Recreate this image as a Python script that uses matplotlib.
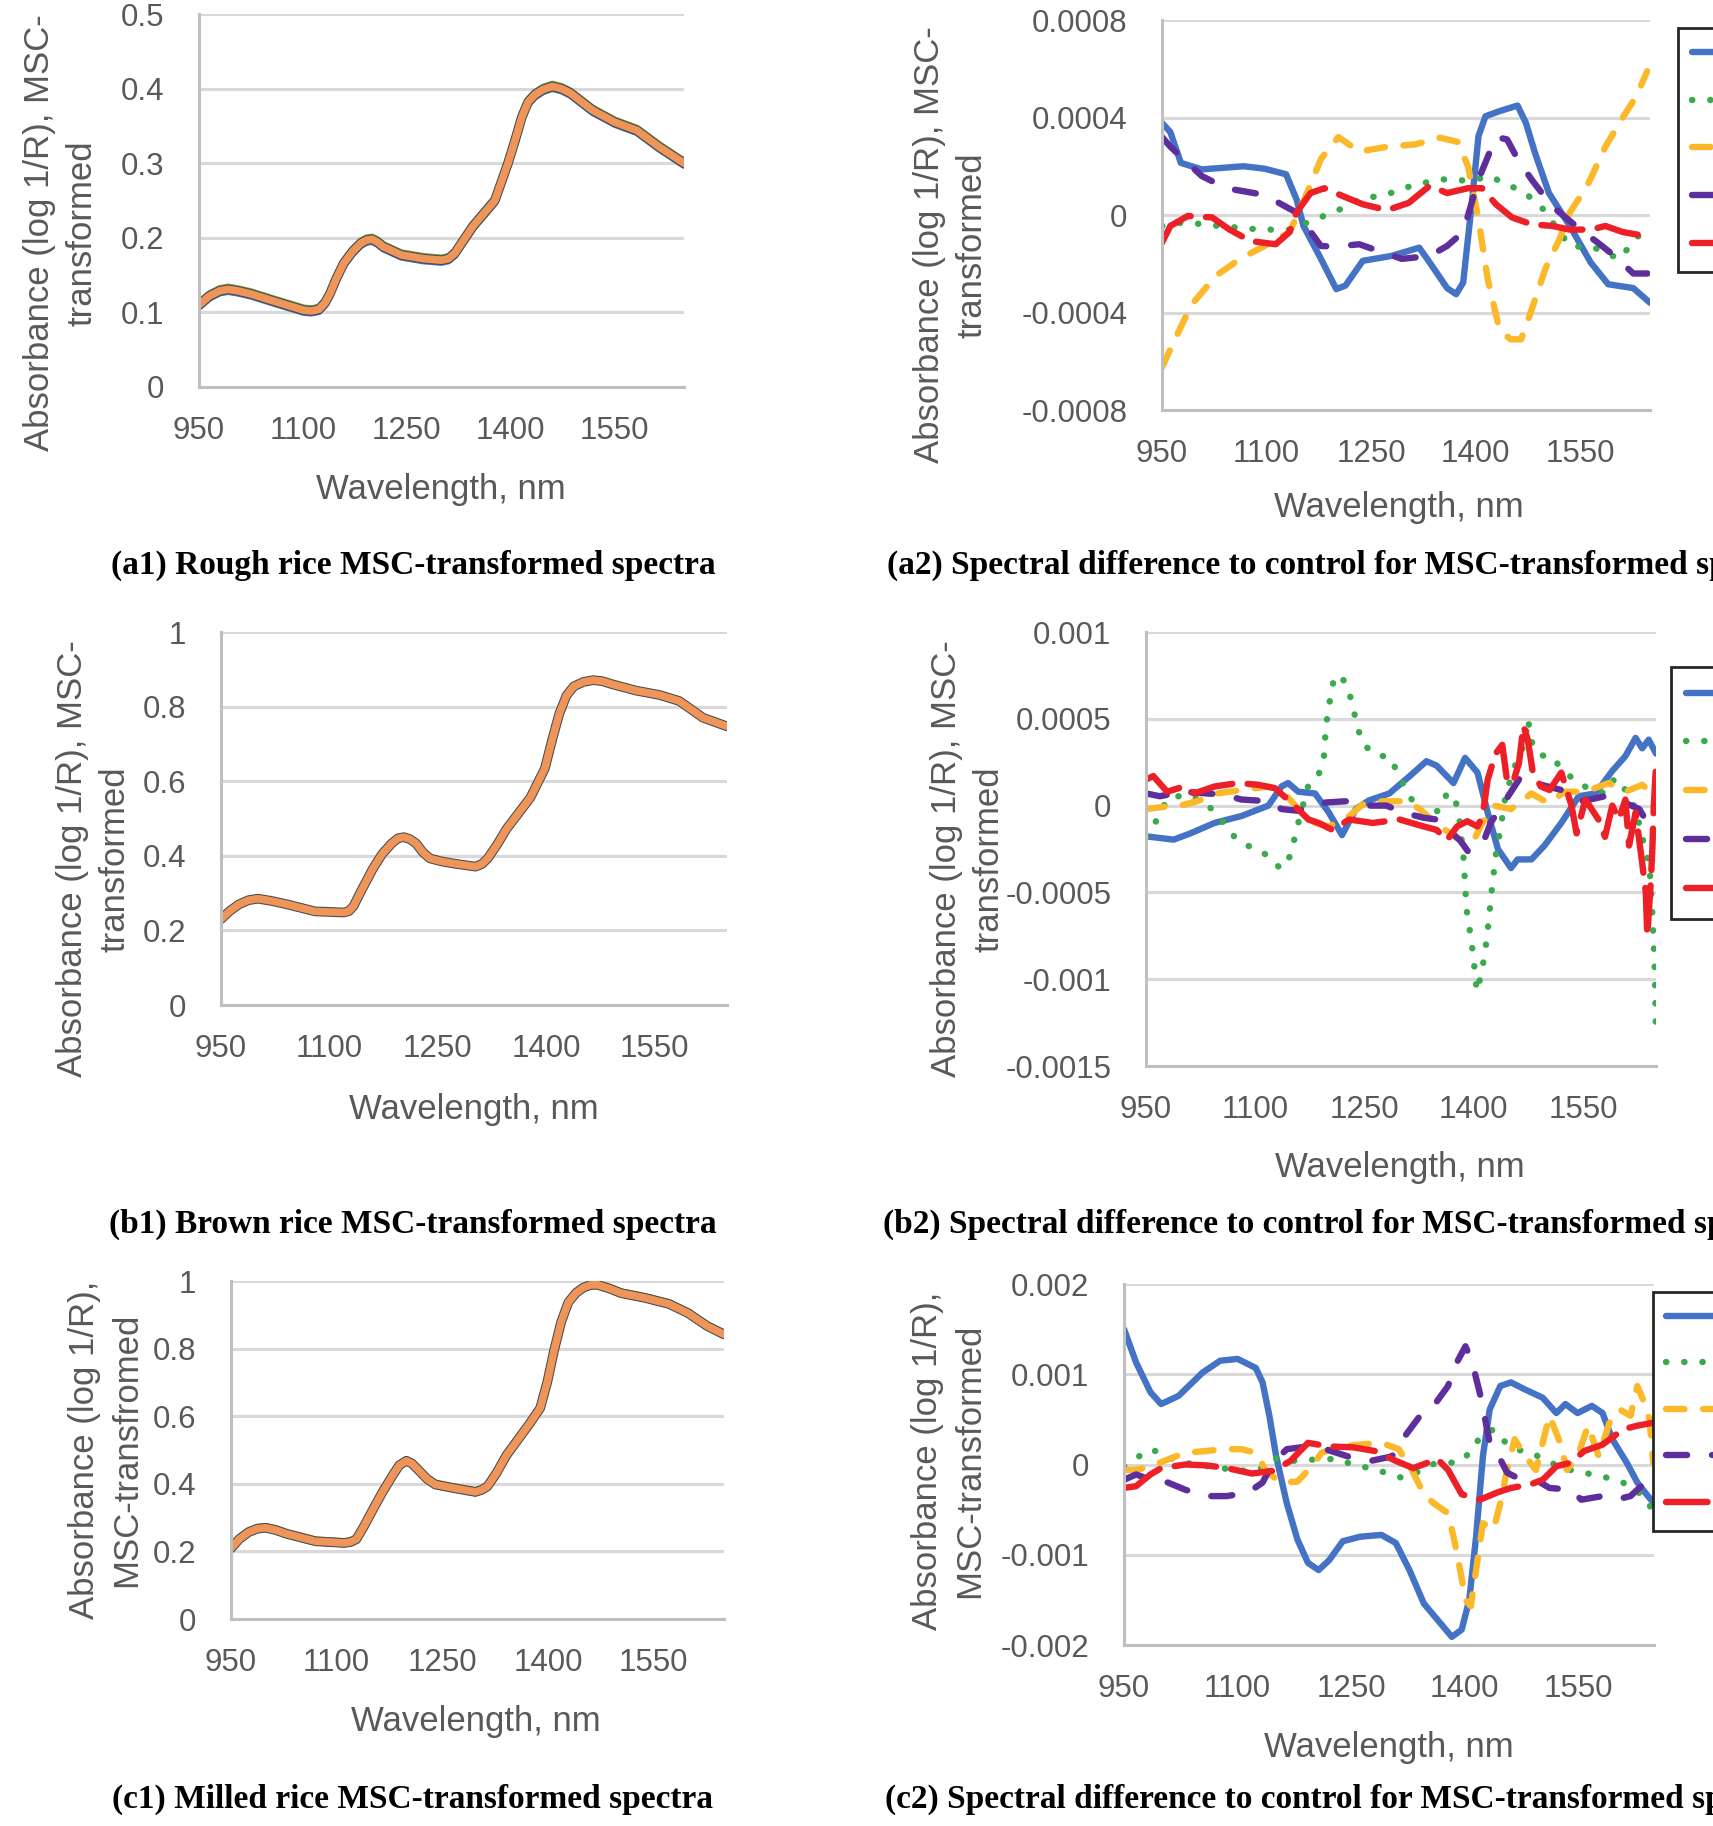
import matplotlib
matplotlib.use('Agg')
import matplotlib.pyplot as plt
import numpy as np

# ---- data ----
# left column: MSC-transformed spectra (absorbance)
a1_nm = [950, 965, 980, 992, 1005, 1024, 1062, 1101, 1112, 1123, 1132, 1139, 1148, 1159, 1172, 1184, 1192,
         1200, 1208, 1216, 1242, 1274, 1300, 1310, 1319, 1332, 1345, 1377, 1396, 1406, 1416, 1425, 1435,
         1447, 1460, 1473, 1486, 1518, 1550, 1582, 1614, 1650]
a1_abs = [0.11, 0.122, 0.129, 0.131, 0.129, 0.125, 0.114, 0.103, 0.102, 0.104, 0.113, 0.125, 0.145, 0.166,
          0.182, 0.193, 0.197, 0.198, 0.194, 0.188, 0.177, 0.172, 0.17, 0.172, 0.179, 0.197, 0.215, 0.25,
          0.3, 0.33, 0.362, 0.382, 0.392, 0.399, 0.403, 0.4, 0.394, 0.371, 0.355, 0.344, 0.322, 0.3]
b1_nm = [950, 962, 975, 988, 1001, 1020, 1041, 1080, 1120, 1127, 1133, 1145, 1160, 1173, 1186, 1195, 1203,
         1211, 1220, 1229, 1239, 1255, 1273, 1302, 1311, 1319, 1332, 1345, 1378, 1398, 1408, 1418, 1428,
         1438, 1451, 1465, 1478, 1491, 1524, 1557, 1584, 1617, 1650]
b1_abs = [0.23, 0.252, 0.27, 0.281, 0.285, 0.279, 0.27, 0.251, 0.248, 0.252, 0.264, 0.31, 0.365, 0.405,
          0.433, 0.447, 0.45, 0.445, 0.433, 0.41, 0.393, 0.385, 0.379, 0.371, 0.378, 0.393, 0.43, 0.472,
          0.556, 0.634, 0.71, 0.781, 0.83, 0.854, 0.866, 0.871, 0.868, 0.86, 0.843, 0.831, 0.815, 0.77, 0.747]
c1_nm = [950, 962, 975, 987, 999, 1014, 1029, 1070, 1111, 1120, 1128, 1139, 1151, 1165, 1178, 1189, 1199,
         1207, 1216, 1228, 1240, 1267, 1297, 1306, 1314, 1327, 1341, 1375, 1389, 1399, 1409, 1419, 1429,
         1440, 1450, 1460, 1470, 1487, 1504, 1538, 1572, 1599, 1626, 1650]
c1_abs = [0.209, 0.237, 0.257, 0.267, 0.27, 0.263, 0.252, 0.23, 0.225, 0.228, 0.236, 0.275, 0.322, 0.375,
          0.42, 0.455, 0.468, 0.46, 0.441, 0.415, 0.398, 0.387, 0.376, 0.382, 0.392, 0.432, 0.484, 0.581,
          0.624, 0.7, 0.797, 0.88, 0.937, 0.965, 0.98, 0.988, 0.989, 0.978, 0.964, 0.95, 0.932, 0.905,
          0.867, 0.842]
# spread of the individual spectra around the drawn bundle
a1_shift = [0.003, -0.003, 0.0]
b1_shift = [0.002, -0.002, 0.0]
c1_shift = [0.004, -0.003, 0.0]

# right column: spectral differences to control, in units of 1e-4
a2_blue_nm = [950, 962, 977, 1007, 1067, 1097, 1128, 1143, 1153, 1178, 1200, 1213, 1238, 1279, 1319, 1334,
              1359, 1372, 1382, 1394, 1404, 1414, 1434, 1460, 1472, 1485, 1505, 1535, 1565, 1590, 1626, 1650]
a2_blue = [3.78, 3.4, 2.14, 1.87, 2.0, 1.9, 1.67, 0.64, -0.45, -1.8, -3.04, -2.9, -1.88, -1.68, -1.34, -1.95,
           -3.0, -3.25, -2.77, 0.37, 3.24, 4.05, 4.26, 4.49, 3.78, 2.55, 0.9, -0.45, -1.95, -2.84, -3.0, -3.6]
a2_green_nm = [950, 982, 1032, 1092, 1133, 1168, 1203, 1233, 1273, 1314, 1354, 1394, 1419, 1450, 1475, 1495,
               1535, 1570, 1606, 1631, 1648]
a2_green = [-0.45, -0.3, -0.45, -0.6, -0.6, -0.2, 0.2, 0.64, 0.85, 1.26, 1.46, 1.4, 1.6, 1.2, 0.8, 0.3,
            -1.27, -1.34, -1.8, -0.93, -0.45]
a2_yellow_nm = [950, 967, 992, 1027, 1062, 1097, 1133, 1158, 1178, 1203, 1233, 1273, 1314, 1349, 1374, 1389,
                1404, 1417, 1434, 1450, 1465, 1480, 1500, 1520, 1535, 1560, 1586, 1611, 1631, 1646]
a2_yellow = [-6.25, -5.2, -3.7, -2.5, -1.8, -1.27, -0.7, 0.9, 2.3, 3.2, 2.6, 2.8, 2.9, 3.17, 3.0, 2.0,
             -0.18, -2.6, -4.7, -5.1, -5.1, -3.9, -2.2, -1.0, 0.1, 1.2, 2.8, 4.0, 4.9, 5.9]
a2_purple_nm = [950, 962, 992, 1007, 1042, 1092, 1113, 1143, 1178, 1198, 1233, 1253, 1294, 1334, 1359, 1382,
                1404, 1429, 1445, 1460, 1480, 1495, 1515, 1550, 1575, 1600, 1626, 1648]
a2_purple = [3.2, 2.8, 2.0, 1.6, 1.1, 0.85, 0.57, 0.1, -1.27, -1.3, -1.2, -1.4, -1.8, -1.68, -1.27, -0.7,
             1.46, 3.2, 3.1, 2.3, 1.46, 0.9, 0.23, -0.6, -1.13, -1.7, -2.4, -2.4]
a2_red_nm = [950, 962, 987, 1022, 1047, 1077, 1113, 1133, 1143, 1163, 1183, 1209, 1238, 1273, 1304, 1334,
             1359, 1389, 1409, 1429, 1452, 1480, 1510, 1535, 1565, 1586, 1611, 1631, 1648]
a2_red = [-1.13, -0.45, -0.04, -0.1, -0.6, -1.07, -1.2, -0.7, 0.1, 0.9, 1.1, 0.78, 0.44, 0.2, 0.5, 1.2,
          0.9, 1.1, 1.1, 0.44, -0.1, -0.38, -0.45, -0.6, -0.6, -0.45, -0.7, -0.8, -0.86]

b2_blue_nm = [950, 988, 1011, 1044, 1081, 1118, 1136, 1145, 1159, 1182, 1201, 1219, 1238, 1256, 1284, 1312,
              1335, 1349, 1372, 1388, 1405, 1419, 1433, 1451, 1460, 1479, 1497, 1520, 1544, 1567, 1590, 1608,
              1622, 1631, 1640, 1650]
b2_blue = [-1.77, -1.96, -1.6, -1.0, -0.6, 0.0, 1.1, 1.3, 0.8, 0.7, -0.4, -1.7, -0.2, 0.3, 0.7, 1.7,
           2.56, 2.3, 1.3, 2.75, 1.9, -0.4, -2.5, -3.6, -3.1, -3.1, -2.3, -1.0, 0.54, 0.7, 2.0, 2.85,
           3.9, 3.3, 3.8, 3.0]
b2_green_nm = [950, 960, 979, 1002, 1030, 1053, 1069, 1085, 1104, 1120, 1135, 1148, 1159, 1173, 1187, 1194,
               1197, 1204, 1209, 1222, 1231, 1241, 1249, 1266, 1285, 1294, 1312, 1335, 1354, 1363, 1372,
               1379, 1386, 1390, 1397, 1402, 1404, 1411, 1418, 1425, 1430, 1437, 1444, 1458, 1470, 1474,
               1481, 1492, 1509, 1515, 1539, 1557, 1580, 1594, 1608, 1622, 1631, 1641, 1645, 1648, 1650]
b2_green = [-1.8, -1.2, 0.35, 0.63, 0.25, -0.8, -1.7, -2.25, -2.5, -3.0, -3.65, -2.9, -1.0, 1.2, 1.8, 2.65,
            4.6, 6.5, 7.5, 7.2, 6.2, 4.4, 3.5, 2.9, 2.8, 2.0, 0.5, -0.7, -0.2, 0.7, 0.6,
            -0.3, -3.1, -6.0, -7.9, -9.8, -10.7, -9.6, -7.6, -4.7, -2.9, -1.2, 0.7, 2.46, 3.6, 5.0,
            3.4, 2.9, 2.8, 2.4, 1.4, 1.0, 0.7, 1.6, 0.9, -0.2, -1.8, -3.5, -6.2, -9.1, -13.0]
b2_yellow_nm = [950, 969, 997, 1020, 1048, 1081, 1118, 1136, 1159, 1182, 1201, 1229, 1247, 1275, 1307, 1326,
                1349, 1368, 1386, 1400, 1409, 1428, 1451, 1479, 1502, 1525, 1553, 1585, 1608, 1631, 1650]
b2_yellow = [-0.2, -0.1, 0.0, 0.25, 0.7, 0.9, 1.1, 0.9, -0.2, -1.0, -1.2, -0.6, 0.06, 0.25, 0.25, -0.2,
             -1.1, -1.6, -2.15, -2.0, -1.2, 0.0, -0.2, 0.7, 0.15, 0.8, 0.8, 1.3, 0.8, 1.2, 0.54]
b2_purple_nm = [950, 969, 1002, 1034, 1057, 1081, 1118, 1136, 1159, 1187, 1224, 1247, 1280, 1303, 1331, 1349,
                1381, 1393, 1414, 1423, 1441, 1465, 1483, 1520, 1548, 1580, 1608, 1627, 1650]
b2_purple = [0.7, 0.54, 0.8, 0.7, 0.63, 0.35, 0.25, -0.2, -0.3, 0.15, 0.25, 0.0, 0.0, -0.4, -0.7, -0.8,
             -2.0, -2.7, -2.0, -1.0, 0.15, 1.7, 1.3, 0.9, 0.25, 0.54, 0.15, -0.2, -1.8]
b2_red_nm = [950, 960, 979, 1002, 1016, 1044, 1076, 1104, 1127, 1150, 1173, 1187, 1206, 1229, 1261, 1298,
             1331, 1349, 1363, 1377, 1391, 1405, 1412, 1419, 1430, 1439, 1446, 1455, 1462, 1468, 1474,
             1481, 1492, 1504, 1520, 1534, 1541, 1553, 1571, 1580, 1590, 1599, 1608, 1613, 1622, 1631,
             1636, 1638, 1643, 1645, 1647, 1650]
b2_red = [1.5, 1.7, 0.8, 1.1, 0.7, 1.1, 1.3, 1.2, 1.0, 0.15, -0.8, -1.0, -1.4, -0.8, -1.0, -0.8,
          -1.2, -1.4, -2.0, -1.2, -0.9, -1.2, -0.6, 1.5, 3.0, 3.5, 1.3, 1.5, 2.46, 4.6, 3.8,
          1.9, 1.1, 0.9, 1.9, 0.0, -1.6, 0.35, -0.8, -1.8, 0.0, -0.8, 0.35, -2.3, -0.4, -3.3,
          -5.0, -7.5, -4.3, -2.5, 0.0, 2.3]

c2_blue_nm = [950, 966, 985, 999, 1022, 1054, 1077, 1100, 1124, 1133, 1142, 1151, 1165, 1179, 1193, 1207,
              1221, 1239, 1262, 1290, 1309, 1327, 1346, 1364, 1383, 1396, 1406, 1415, 1424, 1433, 1447,
              1461, 1480, 1503, 1521, 1533, 1549, 1568, 1582, 1595, 1614, 1628, 1642, 1650]
c2_blue = [15, 11.3, 8.0, 6.7, 7.6, 10.2, 11.5, 11.7, 10.7, 9.1, 5.4, 0.9, -4.3, -8.3, -10.9, -11.7,
           -10.6, -8.5, -8.0, -7.8, -8.7, -11.7, -15.4, -17.2, -19.1, -18.3, -15.0, -8.0, 0.9, 6.1, 8.7,
           9.1, 8.3, 7.4, 5.7, 6.7, 5.7, 6.5, 5.7, 2.8, 0.2, -2.0, -3.5, -4.3]
c2_green_nm = [950, 966, 985, 1003, 1022, 1045, 1077, 1110, 1133, 1151, 1170, 1193, 1211, 1235, 1253, 1276,
               1295, 1318, 1336, 1355, 1373, 1392, 1408, 1420, 1438, 1452, 1466, 1489, 1507, 1526, 1540,
               1558, 1577, 1591, 1609, 1628, 1642, 1649]
c2_green = [-0.2, 0.7, 1.7, 1.1, 0.3, 0.0, -0.4, -0.7, -0.4, 0.7, 0.4, 0.5, 0.6, 0.6, -0.1, -0.4,
            -0.9, -1.5, -0.9, 0.0, 0.2, 0.2, 1.4, 3.0, 3.9, 2.6, 1.7, 1.3, 0.4, -0.2, -0.6,
            -0.9, -1.3, -1.5, -2.0, -3.0, -3.9, -5.7]
c2_yellow_nm = [950, 966, 985, 1003, 1031, 1059, 1082, 1105, 1124, 1137, 1156, 1179, 1198, 1211, 1235, 1262,
                1290, 1313, 1332, 1346, 1359, 1378, 1387, 1394, 1401, 1408, 1415, 1424, 1438, 1447, 1456,
                1466, 1480, 1494, 1503, 1512, 1526, 1535, 1549, 1563, 1577, 1591, 1605, 1619, 1628, 1637,
                1644, 1649]
c2_yellow = [-0.6, -0.6, -0.2, 0.4, 1.3, 1.5, 1.7, 1.7, 1.3, -0.6, -2.0, -1.9, -0.2, 1.3, 2.0, 2.2,
             2.4, 1.7, -0.9, -3.3, -4.3, -5.4, -8.7, -11.7, -15.0, -15.7, -11.7, -6.5, -7.2, -4.3, -0.6,
             2.8, 0.9, -0.6, 2.4, 5.4, 2.4, -0.6, 0.9, 4.3, 0.9, 4.6, 6.1, 5.4, 8.7, 6.9,
             5.0, 0.2]
c2_purple_nm = [950, 966, 985, 1008, 1031, 1059, 1086, 1114, 1133, 1147, 1165, 1193, 1216, 1253, 1276, 1304,
                1318, 1341, 1359, 1378, 1387, 1401, 1410, 1422, 1433, 1445, 1456, 1470, 1494, 1512, 1540,
                1554, 1582, 1600, 1619, 1633, 1642]
c2_purple = [-1.7, -1.1, -1.7, -2.0, -2.8, -3.5, -3.5, -3.1, -2.0, 0.2, 1.7, 2.0, 1.7, 0.7, 0.4, 0.9,
             2.8, 5.4, 6.5, 8.7, 10.9, 13.1, 11.3, 7.2, 2.4, 0.9, -0.9, -1.5, -1.7, -2.6, -2.8,
             -3.9, -3.5, -3.9, -3.5, -2.4, -3.9]
c2_red_nm = [950, 966, 985, 999, 1031, 1059, 1086, 1119, 1147, 1170, 1193, 1221, 1253, 1281, 1309, 1332,
             1364, 1378, 1396, 1420, 1443, 1461, 1487, 1503, 1521, 1540, 1558, 1582, 1595, 1609, 1628, 1647]
c2_red = [-2.6, -2.4, -1.1, -0.4, 0.0, -0.1, -0.4, -1.0, -0.7, 0.4, 2.4, 2.0, 1.9, 1.5, 0.4, -0.4,
          0.6, -0.6, -3.3, -3.9, -3.1, -2.6, -2.2, -1.7, -0.2, 0.2, 1.5, 2.2, 3.0, 3.9, 4.3, 4.6]

x_ticks = [950, 1100, 1250, 1400, 1550]
a1_yticks = [0, 0.1, 0.2, 0.3, 0.4, 0.5]
a1_ylabels = ['0', '0.1', '0.2', '0.3', '0.4', '0.5']
b1_yticks = [0, 0.2, 0.4, 0.6, 0.8, 1.0]
b1_ylabels = ['0', '0.2', '0.4', '0.6', '0.8', '1']
a2_yticks = [-0.0008, -0.0004, 0, 0.0004, 0.0008]
a2_ylabels = ['-0.0008', '-0.0004', '0', '0.0004', '0.0008']
b2_yticks = [-0.0015, -0.001, -0.0005, 0, 0.0005, 0.001]
b2_ylabels = ['-0.0015', '-0.001', '-0.0005', '0', '0.0005', '0.001']
c2_yticks = [-0.002, -0.001, 0, 0.001, 0.002]
c2_ylabels = ['-0.002', '-0.001', '0', '0.001', '0.002']

captions = ['(a1) Rough rice MSC-transformed spectra',
            '(a2) Spectral difference to control for MSC-transformed spectra',
            '(b1) Brown rice MSC-transformed spectra',
            '(b2) Spectral difference to control for MSC-transformed spectra',
            '(c1) Milled rice MSC-transformed spectra',
            '(c2) Spectral difference to control for MSC-transformed spectra']

# ---- styling ----
plt.rcParams['font.family'] = ['Liberation Sans', 'DejaVu Sans']
GREY_TXT = '#595959'
W, H = 1713, 1826

fig = plt.figure(figsize=(W / 100, H / 100), dpi=100)


def px_axes(l, t, r, b):
    return fig.add_axes([l / W, 1 - b / H, (r - l) / W, (b - t) / H])


def style(ax, yticks, ylabels, ylim):
    ax.set_xlim(950, 1650)
    ax.set_ylim(*ylim)
    ax.set_xticks(x_ticks)
    ax.set_xticklabels([str(v) for v in x_ticks])
    ax.set_yticks(yticks)
    ax.set_yticklabels(ylabels)
    for s in ['top', 'right']:
        ax.spines[s].set_visible(False)
    for s in ['left', 'bottom']:
        ax.spines[s].set_color('#BFBFBF')
        ax.spines[s].set_linewidth(2.2)
    ax.grid(axis='y', color='#D9D9D9', linewidth=2.2)
    ax.set_axisbelow(True)
    ax.tick_params(length=0, labelsize=22.5, labelcolor=GREY_TXT)
    ax.tick_params(axis='x', pad=21)
    ax.tick_params(axis='y', pad=25)


def ylab(x, y, txt):
    fig.text(x / W, 1 - y / H, txt, rotation=90, ha='center', va='center', multialignment='center',
             fontsize=25, color=GREY_TXT, linespacing=1.35)


def xlab(x, y):
    fig.text(x / W, 1 - y / H, 'Wavelength, nm', ha='center', va='center', fontsize=25, color=GREY_TXT)


def cap(x, y, txt, ha):
    fig.text(x / W, 1 - y / H, txt, ha=ha, va='center', fontsize=24, fontweight='bold',
             family='Liberation Serif', color='black')


def spectrum(ax, nm, vals, shift):
    v = np.array(vals)
    kw = dict(solid_capstyle='round', solid_joinstyle='round')
    ax.plot(nm, v + shift[0], color='#70AD47', lw=5, **kw)
    ax.plot(nm, v + shift[1], color='#4472C4', lw=5, **kw)
    ax.plot(nm, v + shift[2], color='#4A4A4A', lw=7, **kw)
    ax.plot(nm, v, color='#F0955A', lw=5.5, **kw)


COL = ['#4472C4', '#3AAA4D', '#FBB829', '#5E2E9C', '#EE2027']
STY = ['-', (0, (0.05, 2.8)), (0, (2.9, 2.9)), (0, (3.3, 3.9)), (0, (6.5, 2.4))]


def diffs(ax, series, leg_x, leg_y, spacing, bpad):
    hs = []
    for (nm, vals), c, ls in zip(series, COL, STY):
        h, = ax.plot(nm, np.array(vals) * 1e-4, color=c, ls=ls, lw=4.6,
                     dash_capstyle='round', solid_capstyle='round', solid_joinstyle='round')
        hs.append(h)
    leg = fig.legend(hs, [' '] * 5, loc='upper left', bbox_to_anchor=(leg_x / W, 1 - leg_y / H),
                     fontsize=20, frameon=True, fancybox=False, handlelength=3.2, borderpad=bpad,
                     labelspacing=spacing, borderaxespad=0, handletextpad=0.8)
    fr = leg.get_frame()
    fr.set_edgecolor('#262626')
    fr.set_linewidth(2.0)
    fr.set_alpha(1)


# (a1)
ax = px_axes(199, 14, 684, 387)
spectrum(ax, a1_nm, a1_abs, a1_shift)
style(ax, a1_yticks, a1_ylabels, (0, 0.5))
ylab(61, 233, 'Absorbance (log 1/R), MSC-\ntransformed')
xlab(441, 489)
cap(413, 565, captions[0], 'center')

# (a2)
ax = px_axes(1162, 20, 1650, 410)
diffs(ax, [(a2_blue_nm, a2_blue), (a2_green_nm, a2_green), (a2_yellow_nm, a2_yellow),
           (a2_purple_nm, a2_purple), (a2_red_nm, a2_red)], 1678, 28, 0.78, 0.5)
style(ax, a2_yticks, a2_ylabels, (-0.0008, 0.0008))
ylab(951, 245, 'Absorbance (log 1/R), MSC-\ntransformed')
xlab(1399, 507)
cap(887, 565, captions[1], 'left')

# (b1)
ax = px_axes(221, 632, 727, 1005)
spectrum(ax, b1_nm, b1_abs, b1_shift)
style(ax, b1_yticks, b1_ylabels, (0, 1))
ylab(94, 859, 'Absorbance (log 1/R), MSC-\ntransformed')
xlab(474, 1109)
cap(413, 1224, captions[2], 'center')

# (b2)
ax = px_axes(1146, 632, 1656, 1066)
diffs(ax, [(b2_blue_nm, b2_blue), (b2_green_nm, b2_green), (b2_yellow_nm, b2_yellow),
           (b2_purple_nm, b2_purple), (b2_red_nm, b2_red)], 1671, 667, 0.82, 0.55)
style(ax, b2_yticks, b2_ylabels, (-0.0015, 0.001))
ylab(968, 859, 'Absorbance (log 1/R), MSC-\ntransformed')
xlab(1400, 1167)
cap(883, 1224, captions[3], 'left')

# (c1)
ax = px_axes(231, 1281, 724, 1619)
spectrum(ax, c1_nm, c1_abs, c1_shift)
style(ax, b1_yticks, b1_ylabels, (0, 1))
ylab(106, 1450, 'Absorbance (log 1/R),\nMSC-transfromed')
xlab(476, 1721)
cap(413, 1799, captions[4], 'center')

# (c2)
ax = px_axes(1124, 1284, 1654, 1645)
diffs(ax, [(c2_blue_nm, c2_blue), (c2_green_nm, c2_green), (c2_yellow_nm, c2_yellow),
           (c2_purple_nm, c2_purple), (c2_red_nm, c2_red)], 1653, 1292, 0.74, 0.48)
style(ax, c2_yticks, c2_ylabels, (-0.002, 0.002))
ylab(949, 1461, 'Absorbance (log 1/R),\nMSC-transformed')
xlab(1389, 1747)
cap(885, 1799, captions[5], 'left')

fig.savefig('out.png', dpi=100)
